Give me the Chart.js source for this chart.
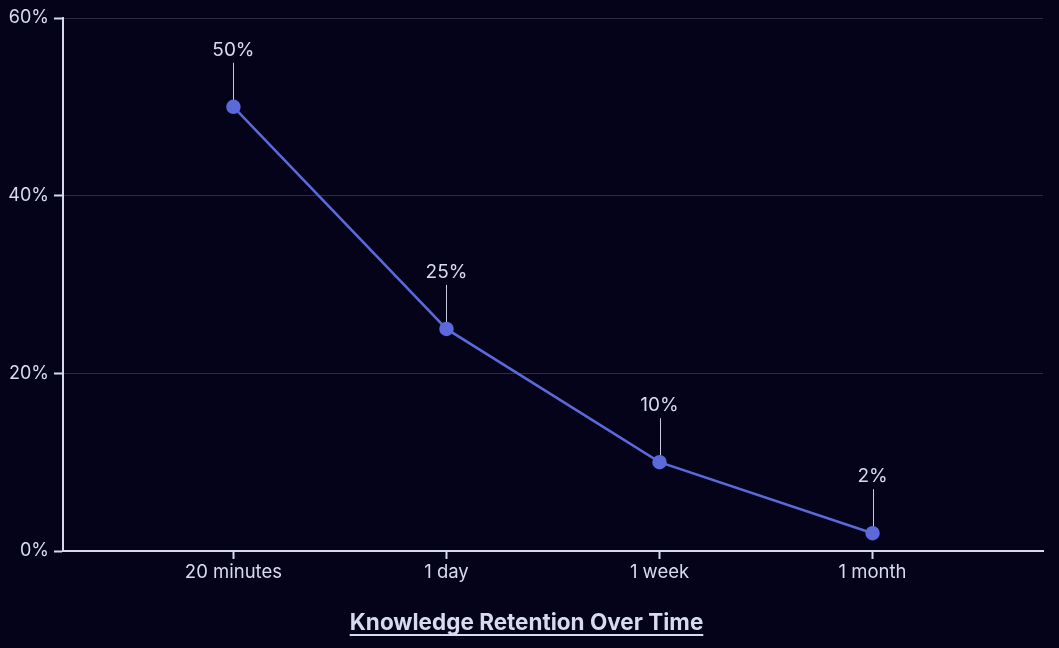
<!DOCTYPE html>
<html>
<head>
<meta charset="utf-8">
<script src="https://cdn.jsdelivr.net/npm/chart.js@4/dist/chart.umd.min.js"></script>
<style>
  html, body { margin: 0; padding: 0; background: #04031a; }
  #wrap { width: 1059px; height: 648px; }
</style>
</head>
<body>
<div id="wrap"><canvas id="retentionChart" width="1059" height="648"></canvas></div>
<script>
// Data
const timeLabels = ['20 minutes', '1 day', '1 week', '1 month'];
const retentionValues = [50, 25, 10, 2];
const yTicks = [0, 20, 40, 60];
const chartTitle = 'Knowledge Retention Over Time';

const textColor = '#d8daee';
const lineColor = '#5b69d9';

// value labels with a leader line above each point
const valueLabels = {
    id: 'valueLabels',
    afterDatasetsDraw(chart) {
        const ctx = chart.ctx;
        const meta = chart.getDatasetMeta(0);
        ctx.save();
        ctx.font = '19px Inter';
        ctx.fillStyle = textColor;
        ctx.strokeStyle = '#c8cade';
        ctx.lineWidth = 1;
        ctx.textAlign = 'center';
        ctx.textBaseline = 'middle';
        meta.data.forEach((pt, i) => {
            const x = Math.round(pt.x) + 0.5;
            ctx.beginPath();
            ctx.moveTo(x, pt.y - 7);
            ctx.lineTo(x, pt.y - 44);
            ctx.stroke();
            ctx.fillText(retentionValues[i] + '%', pt.x, pt.y - 57);
        });
        ctx.restore();
    }
};

// underlined title under the chart
const bottomTitle = {
    id: 'bottomTitle',
    afterDraw(chart) {
        const ctx = chart.ctx;
        const cx = 526.5;
        const y = 623;
        ctx.save();
        ctx.font = 'bold 22.5px Inter';
        ctx.fillStyle = textColor;
        ctx.textAlign = 'center';
        ctx.textBaseline = 'middle';
        ctx.fillText(chartTitle, cx, y);
        const w = ctx.measureText(chartTitle).width;
        ctx.fillRect(cx - w / 2, y + 11, w, 2);
        ctx.restore();
    }
};

const ctx = document.getElementById('retentionChart').getContext('2d');
new Chart(ctx, {
    type: 'line',
    data: {
        datasets: [{
            label: 'Retention',
            data: retentionValues.map((v, i) => ({ x: i, y: v })),
            borderColor: lineColor,
            backgroundColor: lineColor,
            borderWidth: 2.5,
            pointRadius: 6,
            pointHoverRadius: 6,
            tension: 0
        }]
    },
    options: {
        responsive: false,
        animation: false,
        layout: { padding: { top: 18, right: 16, left: 0, bottom: 0 } },
        plugins: {
            legend: { display: false },
            tooltip: { enabled: false }
        },
        scales: {
            x: {
                type: 'linear',
                min: -0.8,
                max: timeLabels.length - 1 + 0.8,
                afterBuildTicks(scale) {
                    scale.ticks = timeLabels.map((_, i) => ({ value: i }));
                },
                afterFit(scale) { scale.height = 97; },
                ticks: {
                    color: textColor,
                    font: { family: 'Inter', size: 18.5 },
                    padding: 2,
                    callback: (v) => timeLabels[v]
                },
                grid: {
                    drawOnChartArea: false,
                    tickColor: '#d6d8ec',
                    tickLength: 8,
                    tickWidth: 2
                },
                border: { color: '#d6d8ec', width: 2 }
            },
            y: {
                min: 0,
                max: 60,
                afterBuildTicks(scale) {
                    scale.ticks = yTicks.map(v => ({ value: v }));
                },
                afterFit(scale) { scale.width = 63; },
                ticks: {
                    color: textColor,
                    font: { family: 'Inter', size: 18 },
                    padding: 5,
                    callback: (v) => v + '%'
                },
                grid: {
                    color: '#2b2c46',
                    tickColor: '#d6d8ec',
                    tickLength: 9,
                    tickWidth: 2
                },
                border: { color: '#d6d8ec', width: 2 }
            }
        }
    },
    plugins: [valueLabels, bottomTitle]
});
</script>
</body>
</html>
